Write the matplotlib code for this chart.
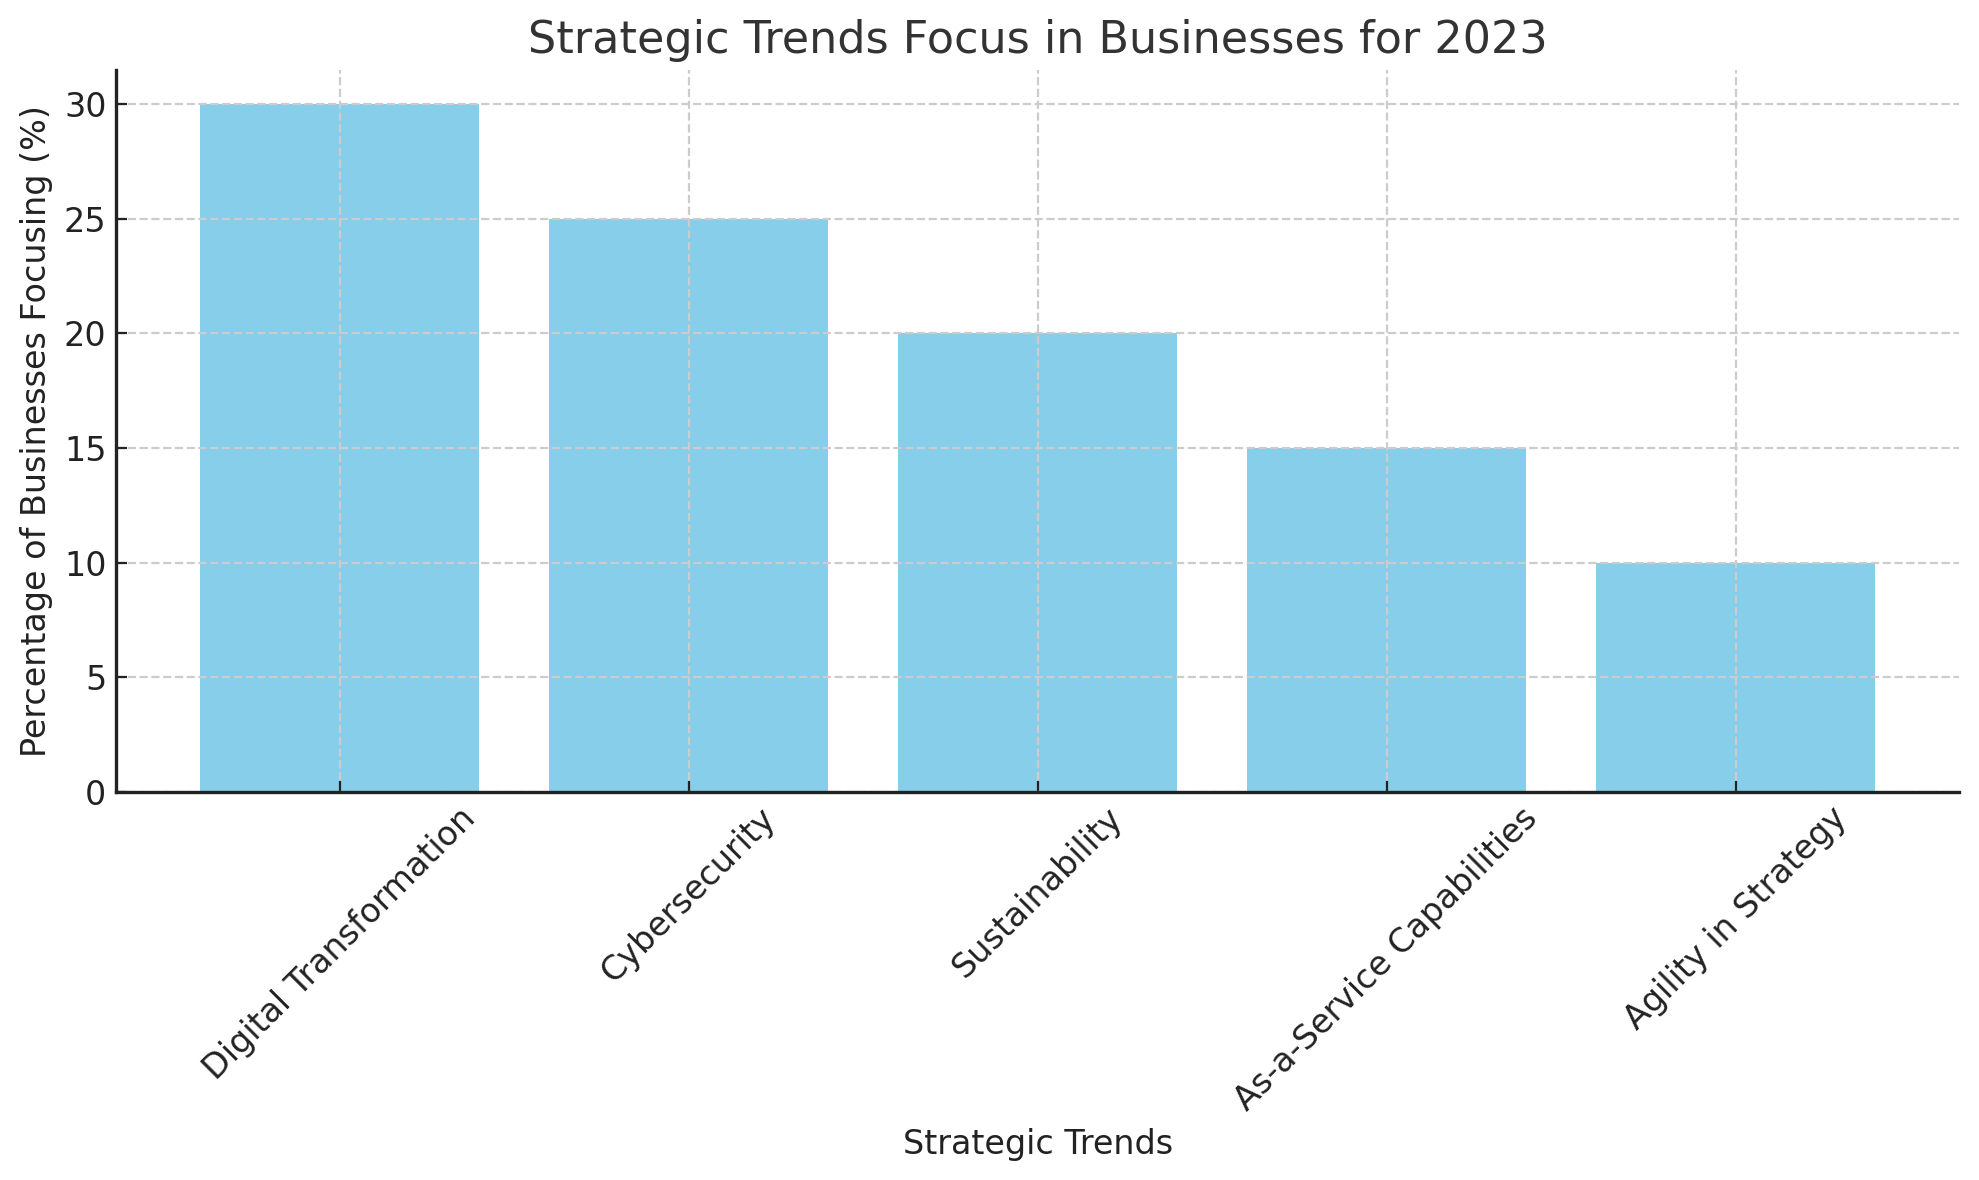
import matplotlib
matplotlib.use("Agg")
from matplotlib import pyplot as plt

trends = ['Digital Transformation', 'Cybersecurity', 'Sustainability',
          'As-a-Service Capabilities', 'Agility in Strategy']
percentages = [30, 25, 20, 15, 10]


def draw_chart(categories, values):
    fig, ax = plt.subplots(figsize=(1979 / 200, 1180 / 200), dpi=200)
    fig.subplots_adjust(left=0.0587, right=0.990, bottom=0.329, top=0.941)
    ax.bar(categories, values, color='skyblue', width=0.8, zorder=1)
    ax.grid(True, linestyle='--', color='#cccccc', linewidth=0.8, zorder=2)
    ax.set_axisbelow(False)
    for side in ['top', 'right']:
        ax.spines[side].set_visible(False)
    for side in ['left', 'bottom']:
        ax.spines[side].set_color('#222222')
        ax.spines[side].set_linewidth(1.2)
        ax.spines[side].set_zorder(3)
    ax.tick_params(direction='in', labelsize=12, colors='#222222', length=4)
    plt.setp(ax.get_xticklabels(), rotation=45)
    ax.set_title('Strategic Trends Focus in Businesses for 2023',
                 fontsize=16, color='#333333')
    ax.set_xlabel('Strategic Trends', fontsize=12, color='#222222')
    ax.set_ylabel('Percentage of Businesses Focusing (%)', fontsize=12,
                  color='#222222')
    fig.savefig('out.png')


draw_chart(trends, percentages)
